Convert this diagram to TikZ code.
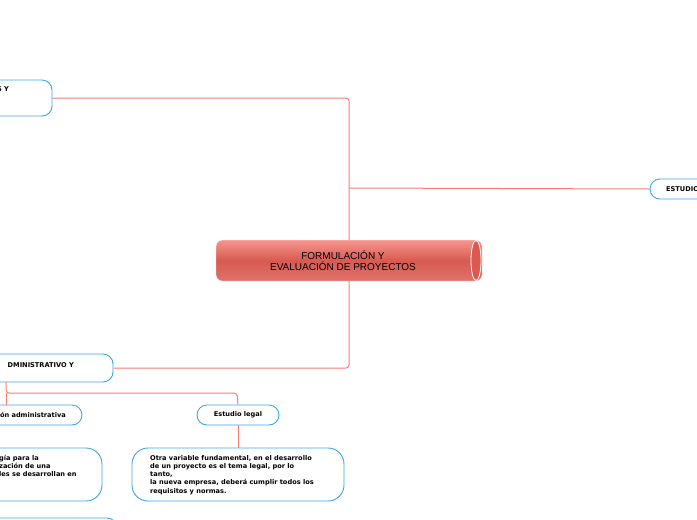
\documentclass[tikz,border=0pt]{standalone}
\usepackage{fontspec}
\setmainfont{DejaVu Sans}
\newfontfamily\ctr{Liberation Sans}
\definecolor{lk}{HTML}{F87C74}
\definecolor{bx}{HTML}{3DA5E8}
\definecolor{ctop}{HTML}{F7968E}
\definecolor{cbot}{HTML}{D85A50}
\begin{document}
\begin{tikzpicture}[x=1pt,y=-1pt,
 box/.style={draw=bx,line width=0.9pt,rounded corners=10pt,fill=white,inner sep=0pt},
 lbl/.style={font=\bfseries\fontsize{6.6}{8.2}\selectfont,align=left,inner sep=0pt},
 link/.style={draw=lk,line width=1pt,rounded corners=3pt}]
\useasboundingbox (0,0) rectangle (697,520);
\clip (0,0) rectangle (697,520);
% central
\shade[top color=ctop,bottom color=cbot!85!white,middle color=cbot, draw=white, rounded corners=6pt] (216,240) rectangle (482,281);
\node[minimum width=266pt,minimum height=41pt,inner sep=0pt] (c) at (349,260.5) {};
\draw[white,line width=0.8pt,fill=cbot] (476,260.5) ellipse (5pt and 20pt);
\node[font=\ctr\fontsize{10}{11.5}\selectfont,align=center,text=black] at (343,260.5) {FORMULACIÓN Y\\EVALUACIÓN DE PROYECTOS};
% boxes
\node[box,minimum width=160pt,minimum height=36pt] (tl) at (-28,98) {};
\node[lbl,anchor=west] at (-3,89) {S Y};
\node[box,minimum width=100pt,minimum height=20pt] (r) at (700,189) {};
\node[lbl,anchor=west] at (666,189.5) {ESTUDIO};
\node[box,minimum width=200pt,minimum height=28pt] (bl) at (13,368) {};
\node[lbl,anchor=east] at (74,365) {DMINISTRATIVO Y};
\node[box,minimum width=140pt,minimum height=20pt] (adm) at (12,415) {};
\node[lbl,anchor=east] at (66,415) {ón administrativa};
\node[box,minimum width=82pt,minimum height=20pt] (leg) at (238,415) {};
\node[lbl] at (238,415) {Estudio legal};
\node[box,minimum width=212pt,minimum height=53pt,rounded corners=16pt] (legt) at (238,474.5) {};
\node[lbl,anchor=north west] at (150,455) {Otra variable fundamental, en el desarrollo\\de un proyecto es el tema legal, por lo\\tanto,\\la nueva empresa, deberá cumplir todos los\\requisitos y normas.};
\node[box,minimum width=160pt,minimum height=53pt,rounded corners=16pt] (admt) at (22,474.5) {};
\node[lbl,anchor=north west] at (-1,455) {gía para la\\zación de una\\les se desarrollan en};
\node[box,minimum width=160pt,minimum height=20pt] (bot) at (37,528) {};
% links
\draw[link] (tl.east) -- (349,98) -- (c.north);
\draw[link] (349,188) -- (r.west);
\draw[link] (bl.east) -- (349,368) -- (c.south);
\draw[link] (6,382) -- (6,393) -- (237,393) -- (leg.north);
\draw[link] (6,393) -- (adm.north -| 6,0);
\draw[link] (leg.south) -- (legt.north);
\end{tikzpicture}
\end{document}
